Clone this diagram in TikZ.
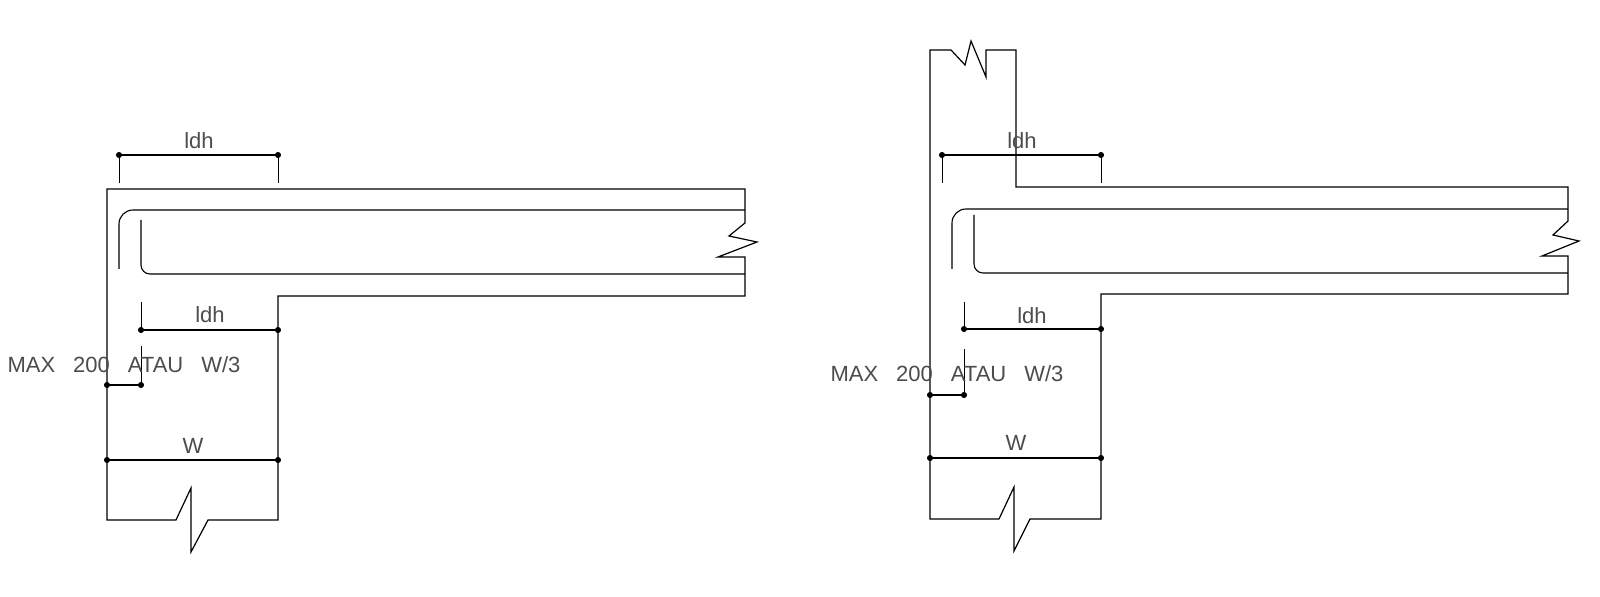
\documentclass[tikz,border=0pt]{standalone}
\usepackage{fontspec}
\setmainfont{Liberation Sans}
\usetikzlibrary{arrows.meta}
\tikzset{
  outline/.style={line width=0.6pt},
  outerbar/.style={line width=0.55pt,rounded corners=7pt},
  innerbar/.style={line width=0.55pt,rounded corners=4.5pt},
  dimline/.style={line width=0.55pt,{Circle[length=3pt]}-{Circle[length=3pt]},shorten <=-1.5pt,shorten >=-1.5pt},
  tickline/.style={line width=0.5pt},
  dimtext/.style={inner sep=0pt,font=\fontsize{11}{11}\selectfont,text=black!70}
}
\begin{document}
\begin{tikzpicture}[x=0.5pt,y=-0.5pt]
\useasboundingbox (0,0) rectangle (1600,597);
% left joint
\draw[outline] (107,189)--(745,189)--(745,223)--(729,236)--(757,242)--(718,257)--(745,257)--(745,296)--(278,296)--(278,520)--(208,520)--(191,552)--(191,488)--(176,520)--(107,520)--cycle;
\draw[outerbar] (119,269)--(119,210)--(745,210);
\draw[innerbar] (141,220)--(141,274)--(745,274);
\draw[tickline] (119,155)--(119,183);
\draw[tickline] (278,155)--(278,183);
\draw[dimline] (119,155)--(278,155);
\node[dimtext] (ldhtopa) at (199,141) {ldh};
\draw[tickline] (141,302)--(141,330);
\draw[dimline] (141,330)--(278,330);
\node[dimtext] (ldhlowa) at (210,315) {ldh};
\draw[tickline] (141,346)--(141,385);
\draw[dimline] (107,385)--(141,385);
\node[dimtext] (maxa) at (124,365) {MAX\hspace{9pt}200\hspace{9pt}ATAU\hspace{9pt}W/3};
\draw[dimline] (107,460)--(278,460);
\node[dimtext] (wa) at (193,446) {W};
% right joint
\draw[outline] (930,50)--(951,50)--(965,65)--(971,41)--(986,77)--(986,50)--(1016,50)--(1016,187)--(1568,187)--(1568,221)--(1553,235)--(1579,241)--(1542,256)--(1568,256)--(1568,294)--(1101,294)--(1101,519)--(1030,519)--(1014,551)--(1014,487)--(999,519)--(930,519)--cycle;
\draw[outerbar] (952,269)--(952,209)--(1568,209);
\draw[innerbar] (974,215)--(974,273)--(1568,273);
\draw[tickline] (942,155)--(942,183);
\draw[tickline] (1101,155)--(1101,183);
\draw[dimline] (942,155)--(1101,155);
\node[dimtext] (ldhtopb) at (1022,141) {ldh};
\draw[tickline] (964,302)--(964,329);
\draw[dimline] (964,329)--(1101,329);
\node[dimtext] (ldhlowb) at (1032,316) {ldh};
\draw[tickline] (964,349)--(964,395);
\draw[dimline] (930,395)--(964,395);
\node[dimtext] (maxb) at (947,374) {MAX\hspace{9pt}200\hspace{9pt}ATAU\hspace{9pt}W/3};
\draw[dimline] (930,458)--(1101,458);
\node[dimtext] (wb) at (1016,443) {W};
\end{tikzpicture}
\end{document}
